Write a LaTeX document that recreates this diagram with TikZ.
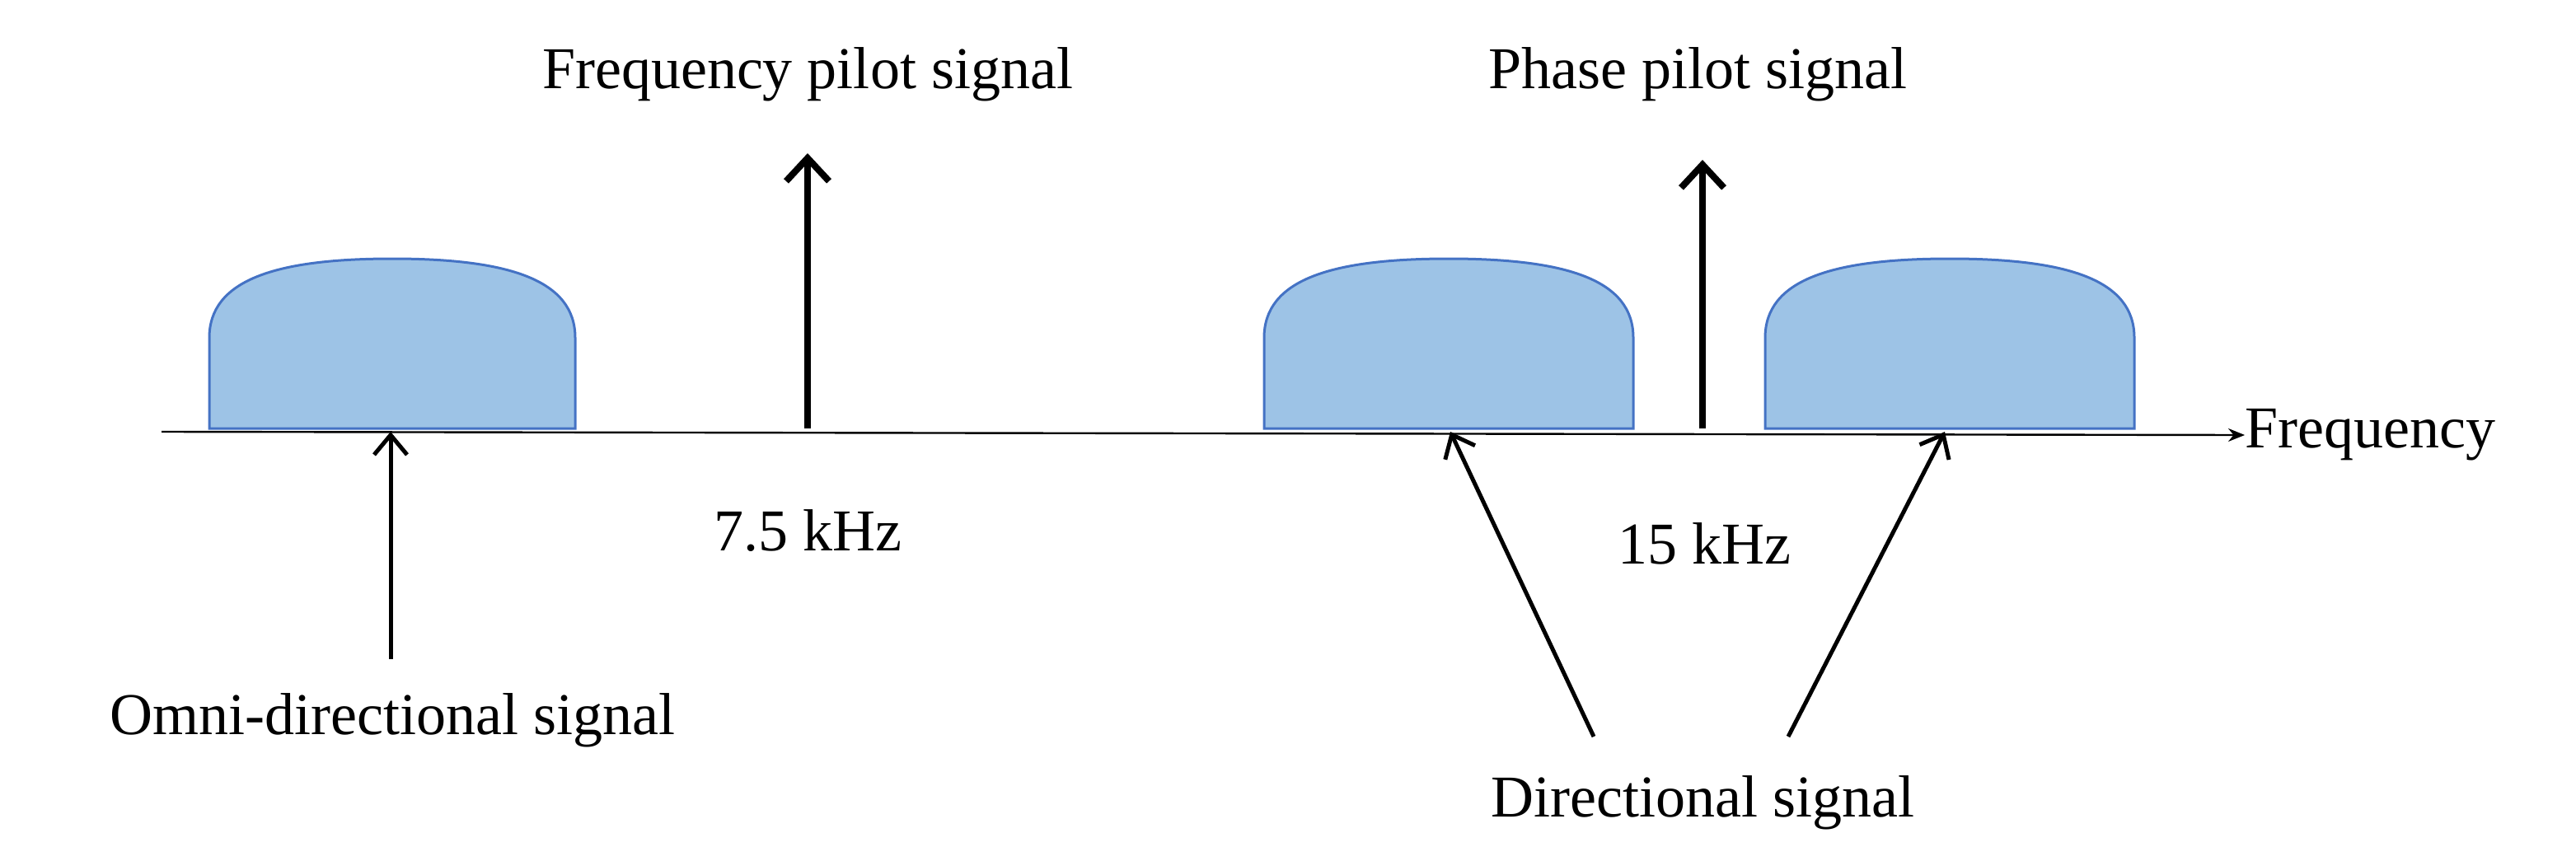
\documentclass[tikz,border=0pt]{standalone}
\usepackage{fontspec}
\setmainfont{Liberation Serif}
\usetikzlibrary{arrows.meta}
\definecolor{bfill}{RGB}{157,195,230}
\definecolor{bdraw}{RGB}{68,114,196}
\begin{document}
\begin{tikzpicture}[x=1pt,y=-1pt,
  lbl/.style={font=\fontsize{36}{40}\selectfont,inner sep=0pt},
  bump/.style={fill=bfill,draw=bdraw,line width=1.5pt},
  pilot/.style={line width=4pt,-{Straight Barb[length=14pt,width=26pt,line width=4pt]}},
  ptr/.style={line width=2.5pt,-{Straight Barb[length=12pt,width=20pt,line width=2.5pt]}}]
\useasboundingbox (0,0) rectangle (1563,522);
\foreach \a/\b in {127/349,767/991,1071/1295}{
  \draw[bump] (\a,260) -- (\a,205) .. controls (\a,170) and ({\a+40},157) .. ({(\a+\b)/2},157)
    .. controls ({\b-40},157) and (\b,170) .. (\b,205) -- (\b,260) -- cycle;}
\coordinate (ax0) at (98,262);
\node[lbl,anchor=west] (freq) at (1362,264) {Frequency};
\draw[line width=1.2pt,-{Stealth[length=10pt,width=8pt]}] (ax0) -- (freq.west);
\coordinate (p1b) at (490,260); \coordinate (p1t) at (490,93);
\coordinate (p2b) at (1033,260); \coordinate (p2t) at (1033,97);
\draw[pilot] (p1b) -- (p1t);
\draw[pilot] (p2b) -- (p2t);
\node[lbl] (fp) at (490,45) {Frequency pilot signal};
\node[lbl] (pp) at (1030,45) {Phase pilot signal};
\node[lbl] (k1) at (490,322) {7.5 kHz};
\node[lbl] (k2) at (1034,330) {15 kHz};
\node[lbl] (omni) at (238,437) {Omni-directional signal};
\node[lbl] (dir) at (1033,487) {Directional signal};
\coordinate (o0) at (237,400); \coordinate (o1) at (237,262);
\coordinate (d0) at (967,447); \coordinate (d1) at (880,262);
\coordinate (e0) at (1085,447); \coordinate (e1) at (1180,262);
\draw[ptr] (o0) -- (o1);
\draw[ptr] (d0) -- (d1);
\draw[ptr] (e0) -- (e1);
\end{tikzpicture}
\end{document}
